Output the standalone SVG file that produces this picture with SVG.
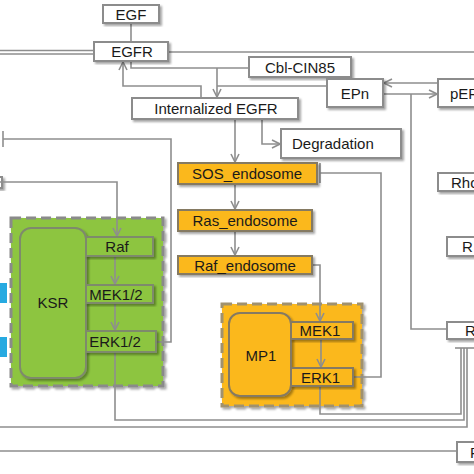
<svg xmlns="http://www.w3.org/2000/svg" width="474" height="474" viewBox="0 0 474 474">
<defs>
<filter id="sh" x="-20%" y="-20%" width="140%" height="140%">
<feDropShadow dx="2" dy="2" stdDeviation="1.3" flood-color="#000" flood-opacity="0.35"/>
</filter>
<marker id="ah" markerWidth="10" markerHeight="10" refX="9" refY="5" orient="auto" markerUnits="userSpaceOnUse">
<path d="M1,1 L9,5 L1,9" fill="none" stroke="#8e8e8e" stroke-width="1.6"/>
</marker>
<style>
.box{fill:#fff;stroke:#8c8c8c;stroke-width:2;filter:url(#sh)}
.ob{fill:#FBB81B;stroke:#857A62;stroke-width:2;filter:url(#sh)}
.gb{fill:#8DC541;stroke:#7E8A6C;stroke-width:2;filter:url(#sh)}
.cx{stroke-width:3;stroke-dasharray:10 5;filter:url(#sh)}
.ln{fill:none;stroke:#8e8e8e;stroke-width:1.6}
.arr{marker-end:url(#ah)}
.t{font-family:"Liberation Sans",Arial,sans-serif;font-size:15px;fill:#1a1a1a}
.c{text-anchor:middle}
.blue{fill:#27AAE1}
</style>
</defs>
<rect width="474" height="474" fill="#fff"/>

<g id="ksr-complex">
<rect class="cx" x="11" y="218" width="152" height="168" fill="#8DC541" stroke="#8a8a8a"/>
</g>
<g id="mp1-complex">
<rect class="cx" x="222" y="304" width="140" height="102" fill="#FBB81B" stroke="#a0916e"/>
</g>

<g id="edge-nodes">
<rect class="blue" x="-5" y="283" width="12" height="20"/>
<rect class="blue" x="-5" y="337" width="12" height="20"/>
<rect class="box" x="-20" y="177" width="22" height="11"/>
</g>

<g id="connectors">
<line class="ln" x1="131" y1="23" x2="131" y2="42"/>
<line class="ln" x1="0" y1="50.5" x2="94" y2="50.5"/>
<line class="ln" x1="0" y1="54" x2="94" y2="54"/>
<line class="ln" x1="168" y1="52" x2="474" y2="52"/>
<path class="ln" d="M131,61 V68 H249"/>
<path class="ln arr" d="M217,68 V97"/>
<path class="ln" d="M217,86 H327"/>
<path class="ln arr" d="M201,98 V86 H123 V62"/>
<path class="ln arr" d="M438,83 H384"/>
<path class="ln arr" d="M383,94 H437"/>
<path class="ln" d="M411,94 V329 H447"/>
<path class="ln arr" d="M262,119 V144 H280"/>
<path class="ln arr" d="M235,119 V162"/>
<path class="ln arr" d="M235,184 V209"/>
<path class="ln arr" d="M235,231 V255"/>
<path class="ln arr" d="M312,265 H320 V321"/>
<path class="ln" d="M353,377 H381 V173 H320"/>
<line class="ln" x1="320" y1="163" x2="320" y2="183"/>
<path class="ln" d="M157,342 H171 V139 H3"/>
<line class="ln" x1="3" y1="131" x2="3" y2="147"/>
<path class="ln arr" d="M0,182 H117 V236"/>
<path class="ln arr" d="M115,256 V284"/>
<path class="ln arr" d="M115,303 V330"/>
<path class="ln arr" d="M321,339 V367"/>
<path class="ln" d="M115,352 V420 H464 V348"/>
<path class="ln" d="M320,386 V414 H461 V348"/>
<path class="ln" d="M0,427 H467 V348"/>
<line class="ln" x1="455" y1="348" x2="474" y2="348"/>
<line class="ln" x1="0" y1="451" x2="457" y2="451"/>
</g>

<g id="EGF"><rect class="box" x="103" y="5" width="56" height="18"/><text class="t c" x="131" y="19.5">EGF</text></g>
<g id="EGFR"><rect class="box" x="94" y="42" width="74" height="19"/><text class="t c" x="132" y="57">EGFR</text></g>
<g id="Cbl-CIN85"><rect class="box" x="249" y="57" width="102" height="20"/><text class="t c" x="300" y="72.5">Cbl-CIN85</text></g>
<g id="EPn"><rect class="box" x="327" y="79" width="56" height="28"/><text class="t c" x="355" y="98.5">EPn</text></g>
<g id="pERK"><rect class="box" x="438" y="79" width="50" height="28"/><text class="t" x="450" y="98.5">pERK</text></g>
<g id="InternalizedEGFR"><rect class="box" x="132" y="98" width="166" height="21"/><text class="t c" x="216" y="114">Internalized EGFR</text></g>
<g id="Degradation"><rect class="box" x="281" y="129" width="120" height="29"/><text class="t" x="292" y="149">Degradation</text></g>
<g id="SOS_endosome"><rect class="ob" x="178" y="163" width="139" height="21"/><text class="t c" x="247" y="179">SOS_endosome</text></g>
<g id="Ras_endosome"><rect class="ob" x="178" y="210" width="134" height="21"/><text class="t c" x="245" y="226">Ras_endosome</text></g>
<g id="Raf_endosome"><rect class="ob" x="178" y="256" width="134" height="18"/><text class="t c" x="245" y="270.5">Raf_endosome</text></g>
<g id="Rho"><rect class="box" x="438" y="173" width="50" height="18"/><text class="t" x="451" y="187.5">Rho</text></g>
<g id="R1"><rect class="box" x="447" y="237" width="40" height="19"/><text class="t" x="462" y="252">R</text></g>
<g id="R2"><rect class="box" x="447" y="322" width="40" height="17"/><text class="t" x="465" y="336">R</text></g>
<g id="R3"><rect class="box" x="457" y="442" width="40" height="20"/><text class="t" x="470" y="457.5">R</text></g>

<g id="KSR"><rect class="gb" x="20" y="228" width="66" height="150" rx="11"/><text class="t c" x="53" y="308">KSR</text></g>
<g id="Raf"><rect class="gb" x="86" y="237" width="67" height="19"/><text class="t c" x="117" y="252">Raf</text></g>
<g id="MEK12"><rect class="gb" x="86" y="285" width="67" height="18"/><text class="t c" x="116" y="299.5">MEK1/2</text></g>
<g id="ERK12"><rect class="gb" x="86" y="331" width="70" height="21"/><text class="t c" x="115" y="347">ERK1/2</text></g>

<g id="MP1"><rect class="ob" x="229" y="313" width="62" height="83" rx="11"/><text class="t c" x="261" y="361">MP1</text></g>
<g id="MEK1"><rect class="ob" x="291" y="322" width="62" height="17"/><text class="t c" x="320" y="336">MEK1</text></g>
<g id="ERK1"><rect class="ob" x="291" y="368" width="62" height="18"/><text class="t c" x="320.5" y="382.5">ERK1</text></g>
</svg>
